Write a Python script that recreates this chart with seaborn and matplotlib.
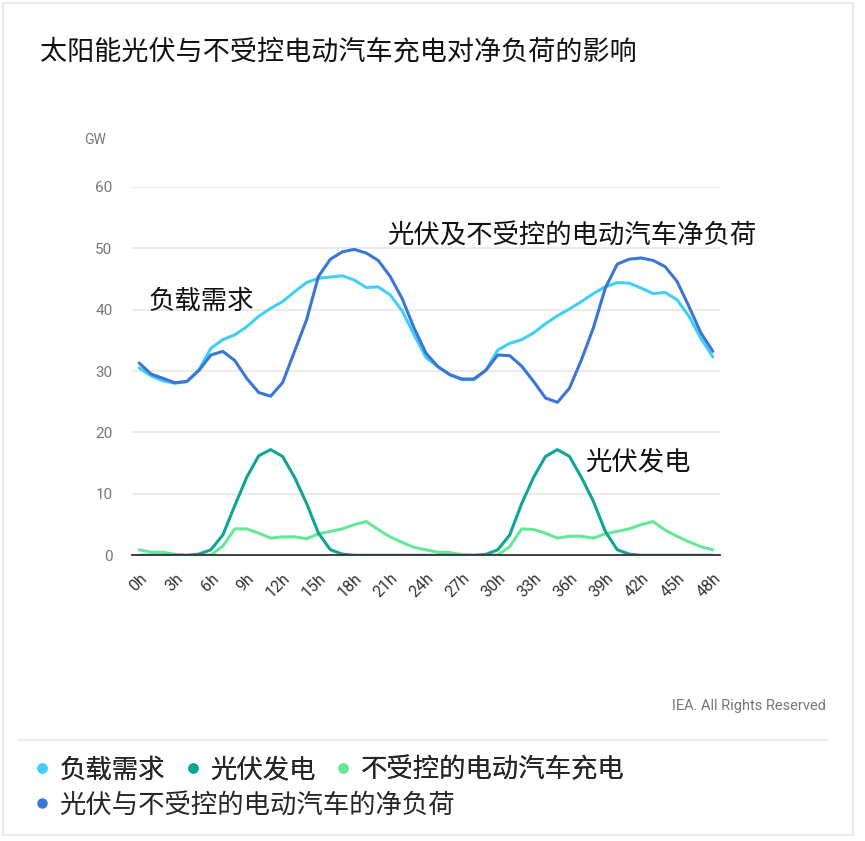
"""
太阳能光伏与不受控电动汽车充电对净负荷的影响
Two-day hourly profile (GW), recreated with seaborn.
"""

import matplotlib.pyplot as plt
from matplotlib.lines import Line2D
from matplotlib.patches import Rectangle
import numpy as np
import pandas as pd
import seaborn as sns


hours = list(range(49))
tick_hours = list(range(0, 49, 3))
tick_labels = [f"{h}h" for h in tick_hours]

load_demand = [
    30.5, 29.2, 28.4, 28.0, 28.3, 30.2, 33.7, 35.1, 35.9, 37.2,
    38.9, 40.2, 41.3, 42.9, 44.4, 45.1, 45.3, 45.5, 44.8, 43.6,
    43.7, 42.4, 39.8, 35.9, 32.2, 30.7, 29.4, 28.6, 28.6, 30.1,
    33.4, 34.5, 35.1, 36.2, 37.7, 39.0, 40.1, 41.3, 42.6, 43.7,
    44.4, 44.3, 43.5, 42.6, 42.8, 41.6, 38.9, 35.3, 32.3,
]
solar_pv = [
    0.0, 0.0, 0.0, 0.0, 0.0, 0.2, 0.9, 3.3, 8.1, 12.7,
    16.2, 17.2, 16.1, 12.7, 8.5, 3.6, 0.9, 0.2, 0.0, 0.0,
    0.0, 0.0, 0.0, 0.0, 0.0, 0.0, 0.0, 0.0, 0.0, 0.15,
    0.9, 3.3, 8.4, 12.7, 16.1, 17.2, 16.1, 12.7, 8.8, 3.9,
    0.9, 0.2, 0.0, 0.0, 0.0, 0.0, 0.0, 0.0, 0.0,
]
ev_charging = [
    0.9, 0.5, 0.5, 0.15, 0.0, 0.0, 0.05, 1.5, 4.3, 4.3,
    3.6, 2.8, 3.0, 3.0, 2.7, 3.5, 3.9, 4.3, 5.0, 5.5,
    4.2, 3.0, 2.1, 1.3, 0.9, 0.5, 0.45, 0.1, 0.0, 0.0,
    0.05, 1.4, 4.3, 4.2, 3.6, 2.8, 3.1, 3.1, 2.8, 3.5,
    3.9, 4.3, 5.0, 5.5, 4.1, 3.1, 2.2, 1.4, 0.9,
]
net_load = [
    31.3, 29.5, 28.8, 28.1, 28.3, 30.1, 32.6, 33.2, 31.7, 28.8,
    26.5, 25.9, 28.1, 33.2, 38.3, 45.4, 48.2, 49.4, 49.8, 49.2,
    48.0, 45.4, 41.8, 37.0, 32.9, 30.7, 29.4, 28.7, 28.7, 30.1,
    32.6, 32.5, 30.8, 28.3, 25.6, 24.9, 27.2, 31.8, 37.0, 43.5,
    47.4, 48.2, 48.4, 48.0, 47.0, 44.6, 40.5, 36.2, 33.2,
]

series_names = ["负载需求", "光伏发电", "不受控的电动汽车充电", "光伏与不受控的电动汽车的净负荷"]
series_colors = ["#41cff6", "#0fa594", "#66e997", "#3a76d6"]


def main():
    sns.set_style("white")
    plt.rcParams["font.family"] = ["Noto Sans CJK SC", "DejaVu Sans"]

    df = pd.DataFrame({
        "hour": hours,
        series_names[0]: load_demand,
        series_names[1]: solar_pv,
        series_names[2]: ev_charging,
        series_names[3]: net_load,
    })
    long_df = df.melt(id_vars="hour", var_name="series", value_name="GW")

    fig = plt.figure(figsize=(8.65, 8.41), dpi=100)
    ax = fig.add_axes([0.1526, 0.3397, 0.6798, 0.4383])

    sns.lineplot(
        data=long_df, x="hour", y="GW", hue="series",
        hue_order=[series_names[2], series_names[1], series_names[0], series_names[3]],
        palette=dict(zip(series_names, series_colors)),
        linewidth=2.2, legend=False, ax=ax,
    )

    ax.set_xlim(-0.6, 48.6)
    ax.set_ylim(0, 60)
    ax.set_yticks(np.arange(0, 61, 10))
    ax.set_xticks(tick_hours)
    ax.set_xticklabels(tick_labels, rotation=45, ha="right",
                       rotation_mode="anchor", fontsize=11.5, color="#333333",
                       family=["Roboto", "DejaVu Sans"])
    ax.set_xlabel("")
    ax.set_ylabel("")
    ax.tick_params(axis="y", length=0, pad=14, labelsize=11, labelcolor="#777777")
    for lab in ax.get_yticklabels():
        lab.set_family(["Roboto", "DejaVu Sans"])
    ax.tick_params(axis="x", length=8, width=1.2, color="#333333", pad=3)
    ax.grid(axis="y", color="#e8e8e8", linewidth=1.2)
    ax.set_axisbelow(True)
    for side in ["left", "right", "top"]:
        ax.spines[side].set_visible(False)
    ax.spines["bottom"].set_color("#333333")
    ax.spines["bottom"].set_linewidth(1.3)

    # series labels placed on the chart
    ax.text(0.75, 41.3, "负载需求", fontsize=19, va="center", color="#111111")
    ax.text(20.75, 52.0, "光伏及不受控的电动汽车净负荷", fontsize=19,
            va="center", color="#111111")
    ax.text(37.3, 15.2, "光伏发电", fontsize=19, va="center", color="#111111")

    fig.text(84 / 865, 1 - 140 / 841, "GW", fontsize=10, color="#777777",
             va="center", family=["Roboto", "DejaVu Sans"])
    fig.text(40 / 865, 1 - 52 / 841, "太阳能光伏与不受控电动汽车充电对净负荷的影响",
             fontsize=19.5, va="center", color="#111111")
    fig.text(826 / 865, 1 - 706 / 841, "IEA. All Rights Reserved", fontsize=10.5,
             ha="right", va="center", color="#777777",
             family=["Roboto", "DejaVu Sans"])

    fig.add_artist(Line2D([18 / 865, 828 / 865], [1 - 740 / 841] * 2,
                          color="#eeeeee", linewidth=1.5))
    fig.add_artist(Rectangle((3 / 865, 1 - 835 / 841), 850 / 865, 832 / 841,
                             fill=False, edgecolor="#e6e6e6", linewidth=1.2))

    handles = [
        Line2D([], [], marker="o", linestyle="", markersize=6.5,
               markerfacecolor=c, markeredgecolor=c)
        for c in series_colors
    ]
    leg1 = fig.legend(handles[:3], series_names[:3], ncol=3, frameon=False,
                      loc="center left", bbox_to_anchor=(24 / 865, 1 - 770 / 841),
                      fontsize=19, handlelength=0.6, handletextpad=0.35,
                      columnspacing=0.75, borderaxespad=0)
    fig.add_artist(leg1)
    fig.legend(handles[3:], series_names[3:], frameon=False,
               loc="center left", bbox_to_anchor=(24 / 865, 1 - 805 / 841),
               fontsize=19, handlelength=0.6, handletextpad=0.35,
               borderaxespad=0)

    fig.savefig("out.png", dpi=100)
    plt.close(fig)


if __name__ == "__main__":
    main()
